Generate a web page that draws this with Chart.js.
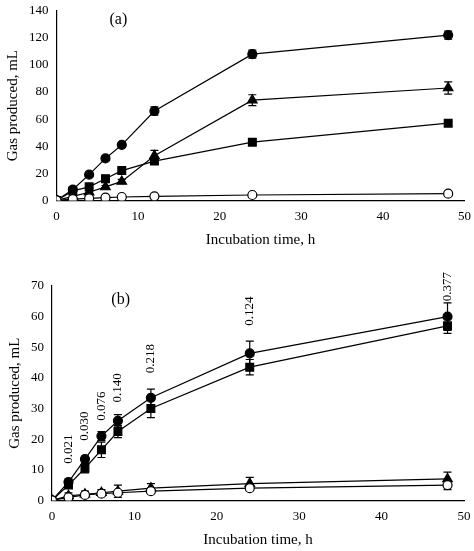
<!DOCTYPE html>
<html><head><meta charset="utf-8">
<script src="https://cdn.jsdelivr.net/npm/chart.js@4"></script>
<style>
body{margin:0;background:#fff}
#boxA{position:absolute;left:0;top:0;width:474px;height:253px}
#boxB{position:absolute;left:0;top:270px;width:474px;height:283px}
</style></head><body>
<div id="boxA"><canvas id="chartA"></canvas></div>
<div id="boxB"><canvas id="chartB"></canvas></div>
<script>
var hours = [0, 2, 4, 6, 8, 12, 24, 48];

// panel (a)
var aCircle = [0, 8, 19, 31, 41, 66, 108, 122];
var aCircleErr = [0, 1, 1, 1.5, 1.5, 3, 3, 3];
var aSquare = [0, 7, 10, 16, 22, 29, 43, 57];
var aSquareErr = [0, 1, 1, 1, 1, 1.5, 1.5, 1.5];
var aTriangle = [0, 3, 6, 10, 14, 33, 74, 83];
var aTriangleErr = [0, 1, 1, 1, 1.5, 4, 4, 4.5];
var aOpen = [0, 1, 1.5, 2, 2.5, 3, 4, 5];
var aOpenErr = [0, 0, 0, 0, 0, 0, 0, 0];

// panel (b)
var bCircle = [0, 6, 13.5, 21, 26, 33.5, 48, 60];
var bCircleErr = [0, 1, 1, 1.5, 2, 2.8, 4, 4.5];
var bSquare = [0, 5, 10.5, 16.5, 22.5, 30, 43.5, 57];
var bSquareErr = [0, 1, 1.5, 2.5, 2, 3, 2.5, 2.5];
var bTriangle = [0, 1.5, 2, 2.5, 3, 4, 5.5, 7];
var bTriangleErr = [0, 1, 1, 1, 2, 1.5, 2, 2.2];
var bOpen = [0, 1, 1.8, 2.2, 2.5, 3, 4, 5];
var bOpenErr = [0, 0, 0, 0, 0, 0, 0, 1.5];
var bNotes = ['', '0.021', '0.030', '0.076', '0.140', '0.218', '0.124', '0.377'];
var bNoteY = [0, 12, 19.5, 26, 32, 41.5, 57, 65];

var serif = 'Liberation Serif';

function series(vals, errs, style, filled) {
    return {
        data: hours.map((h, i) => ({x: h, y: vals[i]})),
        errs: errs,
        borderColor: '#000', borderWidth: 1.2,
        pointStyle: style, pointRadius: style === 'circle' ? 4.5 : 5.5,
        pointBackgroundColor: filled ? '#000' : '#fff',
        pointBorderColor: '#000', pointBorderWidth: 1.2,
        tension: 0
    };
}

var errorBars = {
    id: 'errorBars',
    beforeDatasetsDraw(chart) {
        var ctx = chart.ctx, ys = chart.scales.y, xs = chart.scales.x;
        ctx.save();
        ctx.strokeStyle = '#000';
        ctx.lineWidth = 1.2;
        chart.data.datasets.forEach(ds => {
            ds.data.forEach((p, i) => {
                var e = ds.errs[i];
                if (!e) return;
                var px = xs.getPixelForValue(p.x);
                var top = ys.getPixelForValue(p.y + e), bot = ys.getPixelForValue(p.y - e);
                ctx.beginPath();
                ctx.moveTo(px, top); ctx.lineTo(px, bot);
                ctx.moveTo(px - 4, top); ctx.lineTo(px + 4, top);
                ctx.moveTo(px - 4, bot); ctx.lineTo(px + 4, bot);
                ctx.stroke();
            });
        });
        ctx.restore();
    }
};

var labels = {
    id: 'labels',
    afterDraw(chart, args, opts) {
        var ctx = chart.ctx, ys = chart.scales.y, xs = chart.scales.x;
        ctx.save();
        ctx.fillStyle = '#000';
        ctx.font = '16px ' + serif;
        ctx.fillText(opts.tag, xs.getPixelForValue(opts.tagX), ys.getPixelForValue(opts.tagY));
        if (opts.notes) {
            ctx.font = '13px ' + serif;
            ctx.textBaseline = 'middle';
            opts.notes.forEach((t, i) => {
                if (!t) return;
                ctx.save();
                ctx.translate(xs.getPixelForValue(hours[i]), ys.getPixelForValue(opts.noteY[i]));
                ctx.rotate(-Math.PI / 2);
                ctx.fillText(t, 0, 0);
                ctx.restore();
            });
        }
        ctx.restore();
    }
};

function makeChart(id, sets, yMax, yStep, pad, lab) {
    return new Chart(document.getElementById(id), {
        type: 'line',
        data: {datasets: sets},
        options: {
            responsive: true, maintainAspectRatio: false, animation: false,
            layout: {padding: pad},
            plugins: {legend: {display: false}, tooltip: {enabled: false}, labels: lab},
            scales: {
                x: {
                    type: 'linear', min: 0, max: 50,
                    ticks: {stepSize: 10, color: '#000', font: {family: serif, size: 13}},
                    grid: {display: false, drawTicks: true, tickLength: 5, color: '#000'},
                    border: {color: '#000', width: 1.2},
                    title: {display: true, text: 'Incubation time, h', color: '#000', font: {family: serif, size: 15}}
                },
                y: {
                    min: 0, max: yMax,
                    ticks: {stepSize: yStep, color: '#000', font: {family: serif, size: 13}},
                    grid: {display: false, drawTicks: true, tickLength: 5, color: '#000'},
                    border: {color: '#000', width: 1.2},
                    title: {display: true, text: 'Gas produced, mL', color: '#000', font: {family: serif, size: 15}}
                }
            }
        },
        plugins: [errorBars, labels]
    });
}

makeChart('chartA', [
    series(aOpen, aOpenErr, 'circle', false),
    series(aSquare, aSquareErr, 'rect', true),
    series(aTriangle, aTriangleErr, 'triangle', true),
    series(aCircle, aCircleErr, 'circle', true)
], 140, 20, {top: 2, right: 0, left: 0, bottom: 0}, {tag: '(a)', tagX: 6.5, tagY: 130});

makeChart('chartB', [
    series(bOpen, bOpenErr, 'circle', false),
    series(bTriangle, bTriangleErr, 'triangle', true),
    series(bSquare, bSquareErr, 'rect', true),
    series(bCircle, bCircleErr, 'circle', true)
], 70, 10, {top: 16, right: 10, left: 2, bottom: 0},
{tag: '(b)', tagX: 7.2, tagY: 64, notes: bNotes, noteY: bNoteY});
</script>
</body></html>
